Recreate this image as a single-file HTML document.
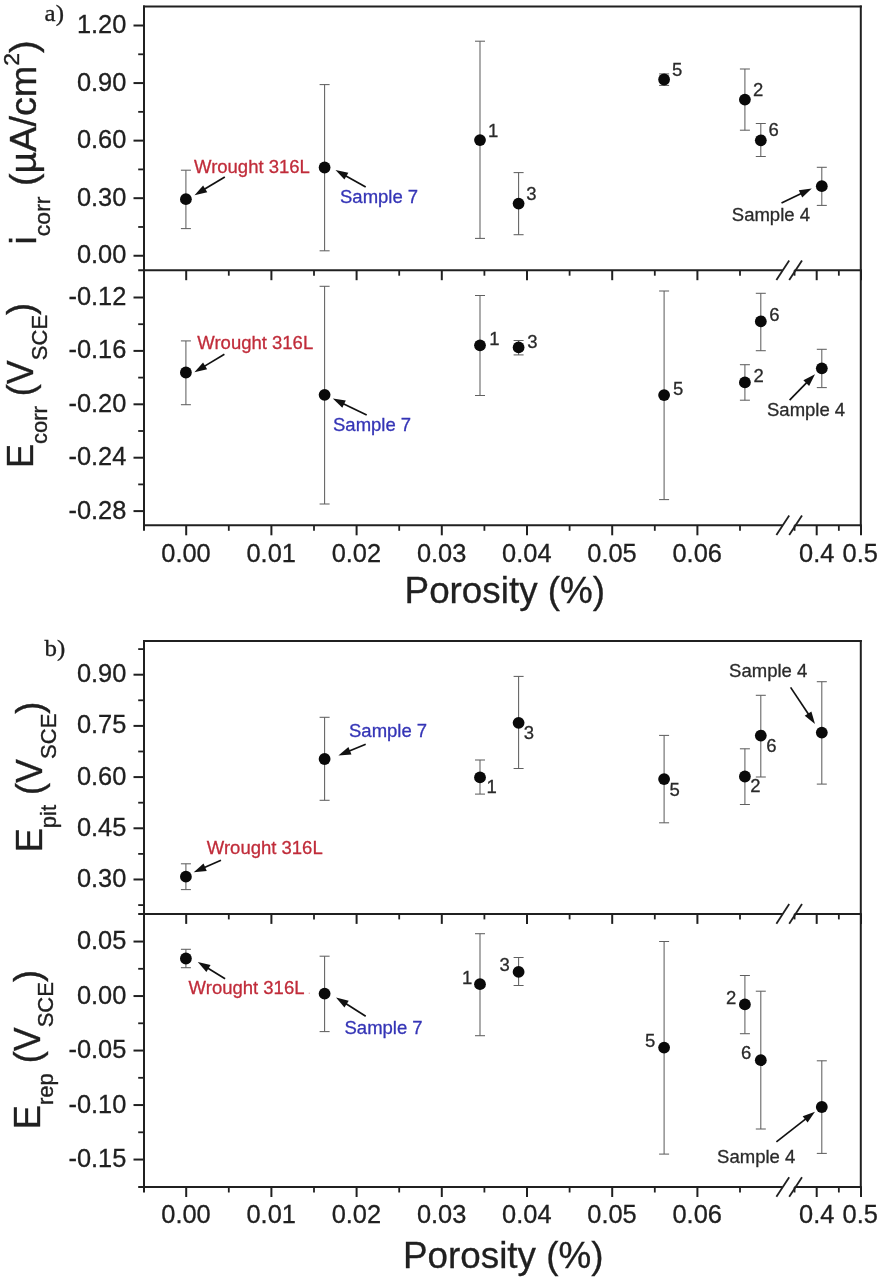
<!DOCTYPE html>
<html lang="en"><head><meta charset="utf-8"><title>Porosity figure</title>
<style>
html,body{margin:0;padding:0;background:#fff;}
body{width:879px;height:1280px;overflow:hidden;}
svg{display:block;}
</style></head><body>
<svg width="879" height="1280" viewBox="0 0 879 1280">
<rect x="0" y="0" width="879" height="1280" fill="#ffffff"/>
<line x1="144.00" y1="5.40" x2="144.00" y2="526.30" stroke="#202020" stroke-width="2.0" stroke-linecap="butt"/>
<line x1="860.80" y1="5.40" x2="860.80" y2="526.30" stroke="#202020" stroke-width="2.0" stroke-linecap="butt"/>
<line x1="143.00" y1="6.40" x2="861.80" y2="6.40" stroke="#202020" stroke-width="2.0" stroke-linecap="butt"/>
<line x1="138.20" y1="270.20" x2="782.80" y2="270.20" stroke="#202020" stroke-width="2.0" stroke-linecap="butt"/>
<line x1="794.50" y1="270.20" x2="861.80" y2="270.20" stroke="#202020" stroke-width="2.0" stroke-linecap="butt"/>
<line x1="776.40" y1="280.00" x2="789.20" y2="260.40" stroke="#202020" stroke-width="1.8" stroke-linecap="butt"/>
<line x1="789.20" y1="280.00" x2="802.00" y2="260.40" stroke="#202020" stroke-width="1.8" stroke-linecap="butt"/>
<line x1="186.20" y1="270.20" x2="186.20" y2="280.20" stroke="#202020" stroke-width="2.0" stroke-linecap="butt"/>
<line x1="271.40" y1="270.20" x2="271.40" y2="280.20" stroke="#202020" stroke-width="2.0" stroke-linecap="butt"/>
<line x1="356.60" y1="270.20" x2="356.60" y2="280.20" stroke="#202020" stroke-width="2.0" stroke-linecap="butt"/>
<line x1="441.80" y1="270.20" x2="441.80" y2="280.20" stroke="#202020" stroke-width="2.0" stroke-linecap="butt"/>
<line x1="527.00" y1="270.20" x2="527.00" y2="280.20" stroke="#202020" stroke-width="2.0" stroke-linecap="butt"/>
<line x1="612.20" y1="270.20" x2="612.20" y2="280.20" stroke="#202020" stroke-width="2.0" stroke-linecap="butt"/>
<line x1="697.40" y1="270.20" x2="697.40" y2="280.20" stroke="#202020" stroke-width="2.0" stroke-linecap="butt"/>
<line x1="228.80" y1="270.20" x2="228.80" y2="275.70" stroke="#202020" stroke-width="1.8" stroke-linecap="butt"/>
<line x1="314.00" y1="270.20" x2="314.00" y2="275.70" stroke="#202020" stroke-width="1.8" stroke-linecap="butt"/>
<line x1="399.20" y1="270.20" x2="399.20" y2="275.70" stroke="#202020" stroke-width="1.8" stroke-linecap="butt"/>
<line x1="484.40" y1="270.20" x2="484.40" y2="275.70" stroke="#202020" stroke-width="1.8" stroke-linecap="butt"/>
<line x1="569.60" y1="270.20" x2="569.60" y2="275.70" stroke="#202020" stroke-width="1.8" stroke-linecap="butt"/>
<line x1="654.80" y1="270.20" x2="654.80" y2="275.70" stroke="#202020" stroke-width="1.8" stroke-linecap="butt"/>
<line x1="740.00" y1="270.20" x2="740.00" y2="275.70" stroke="#202020" stroke-width="1.8" stroke-linecap="butt"/>
<line x1="816.70" y1="270.20" x2="816.70" y2="280.20" stroke="#202020" stroke-width="2.0" stroke-linecap="butt"/>
<line x1="861.00" y1="270.20" x2="861.00" y2="280.20" stroke="#202020" stroke-width="2.0" stroke-linecap="butt"/>
<line x1="794.55" y1="270.20" x2="794.55" y2="275.70" stroke="#202020" stroke-width="1.8" stroke-linecap="butt"/>
<line x1="838.85" y1="270.20" x2="838.85" y2="275.70" stroke="#202020" stroke-width="1.8" stroke-linecap="butt"/>
<line x1="144.00" y1="525.30" x2="782.80" y2="525.30" stroke="#202020" stroke-width="2.0" stroke-linecap="butt"/>
<line x1="794.50" y1="525.30" x2="861.80" y2="525.30" stroke="#202020" stroke-width="2.0" stroke-linecap="butt"/>
<line x1="776.40" y1="535.10" x2="789.20" y2="515.50" stroke="#202020" stroke-width="1.8" stroke-linecap="butt"/>
<line x1="789.20" y1="535.10" x2="802.00" y2="515.50" stroke="#202020" stroke-width="1.8" stroke-linecap="butt"/>
<line x1="186.20" y1="525.30" x2="186.20" y2="535.30" stroke="#202020" stroke-width="2.0" stroke-linecap="butt"/>
<line x1="271.40" y1="525.30" x2="271.40" y2="535.30" stroke="#202020" stroke-width="2.0" stroke-linecap="butt"/>
<line x1="356.60" y1="525.30" x2="356.60" y2="535.30" stroke="#202020" stroke-width="2.0" stroke-linecap="butt"/>
<line x1="441.80" y1="525.30" x2="441.80" y2="535.30" stroke="#202020" stroke-width="2.0" stroke-linecap="butt"/>
<line x1="527.00" y1="525.30" x2="527.00" y2="535.30" stroke="#202020" stroke-width="2.0" stroke-linecap="butt"/>
<line x1="612.20" y1="525.30" x2="612.20" y2="535.30" stroke="#202020" stroke-width="2.0" stroke-linecap="butt"/>
<line x1="697.40" y1="525.30" x2="697.40" y2="535.30" stroke="#202020" stroke-width="2.0" stroke-linecap="butt"/>
<line x1="228.80" y1="525.30" x2="228.80" y2="530.80" stroke="#202020" stroke-width="1.8" stroke-linecap="butt"/>
<line x1="314.00" y1="525.30" x2="314.00" y2="530.80" stroke="#202020" stroke-width="1.8" stroke-linecap="butt"/>
<line x1="399.20" y1="525.30" x2="399.20" y2="530.80" stroke="#202020" stroke-width="1.8" stroke-linecap="butt"/>
<line x1="484.40" y1="525.30" x2="484.40" y2="530.80" stroke="#202020" stroke-width="1.8" stroke-linecap="butt"/>
<line x1="569.60" y1="525.30" x2="569.60" y2="530.80" stroke="#202020" stroke-width="1.8" stroke-linecap="butt"/>
<line x1="654.80" y1="525.30" x2="654.80" y2="530.80" stroke="#202020" stroke-width="1.8" stroke-linecap="butt"/>
<line x1="740.00" y1="525.30" x2="740.00" y2="530.80" stroke="#202020" stroke-width="1.8" stroke-linecap="butt"/>
<line x1="144.00" y1="525.30" x2="144.00" y2="530.80" stroke="#202020" stroke-width="2.0" stroke-linecap="butt"/>
<line x1="816.70" y1="525.30" x2="816.70" y2="535.30" stroke="#202020" stroke-width="2.0" stroke-linecap="butt"/>
<line x1="861.00" y1="525.30" x2="861.00" y2="535.30" stroke="#202020" stroke-width="2.0" stroke-linecap="butt"/>
<line x1="794.55" y1="525.30" x2="794.55" y2="530.80" stroke="#202020" stroke-width="1.8" stroke-linecap="butt"/>
<line x1="838.85" y1="525.30" x2="838.85" y2="530.80" stroke="#202020" stroke-width="1.8" stroke-linecap="butt"/>
<line x1="133.50" y1="255.75" x2="144.00" y2="255.75" stroke="#202020" stroke-width="2.0" stroke-linecap="butt"/>
<text transform="translate(126.30,263.25) scale(1.0,1)" font-size="25.4" text-anchor="end" fill="#202020" stroke="#202020" stroke-width="0.3" font-family='"Liberation Sans", sans-serif' >0.00</text>
<line x1="133.50" y1="198.19" x2="144.00" y2="198.19" stroke="#202020" stroke-width="2.0" stroke-linecap="butt"/>
<text transform="translate(126.30,205.69) scale(1.0,1)" font-size="25.4" text-anchor="end" fill="#202020" stroke="#202020" stroke-width="0.3" font-family='"Liberation Sans", sans-serif' >0.30</text>
<line x1="133.50" y1="140.63" x2="144.00" y2="140.63" stroke="#202020" stroke-width="2.0" stroke-linecap="butt"/>
<text transform="translate(126.30,148.13) scale(1.0,1)" font-size="25.4" text-anchor="end" fill="#202020" stroke="#202020" stroke-width="0.3" font-family='"Liberation Sans", sans-serif' >0.60</text>
<line x1="133.50" y1="83.07" x2="144.00" y2="83.07" stroke="#202020" stroke-width="2.0" stroke-linecap="butt"/>
<text transform="translate(126.30,90.57) scale(1.0,1)" font-size="25.4" text-anchor="end" fill="#202020" stroke="#202020" stroke-width="0.3" font-family='"Liberation Sans", sans-serif' >0.90</text>
<line x1="133.50" y1="25.51" x2="144.00" y2="25.51" stroke="#202020" stroke-width="2.0" stroke-linecap="butt"/>
<text transform="translate(126.30,33.01) scale(1.0,1)" font-size="25.4" text-anchor="end" fill="#202020" stroke="#202020" stroke-width="0.3" font-family='"Liberation Sans", sans-serif' >1.20</text>
<line x1="138.20" y1="226.97" x2="144.00" y2="226.97" stroke="#202020" stroke-width="1.8" stroke-linecap="butt"/>
<line x1="138.20" y1="169.41" x2="144.00" y2="169.41" stroke="#202020" stroke-width="1.8" stroke-linecap="butt"/>
<line x1="138.20" y1="111.85" x2="144.00" y2="111.85" stroke="#202020" stroke-width="1.8" stroke-linecap="butt"/>
<line x1="138.20" y1="54.29" x2="144.00" y2="54.29" stroke="#202020" stroke-width="1.8" stroke-linecap="butt"/>
<line x1="133.50" y1="297.50" x2="144.00" y2="297.50" stroke="#202020" stroke-width="2.0" stroke-linecap="butt"/>
<text transform="translate(126.30,305.00) scale(1.0,1)" font-size="25.4" text-anchor="end" fill="#202020" stroke="#202020" stroke-width="0.3" font-family='"Liberation Sans", sans-serif' >-0.12</text>
<line x1="133.50" y1="350.90" x2="144.00" y2="350.90" stroke="#202020" stroke-width="2.0" stroke-linecap="butt"/>
<text transform="translate(126.30,358.40) scale(1.0,1)" font-size="25.4" text-anchor="end" fill="#202020" stroke="#202020" stroke-width="0.3" font-family='"Liberation Sans", sans-serif' >-0.16</text>
<line x1="133.50" y1="404.30" x2="144.00" y2="404.30" stroke="#202020" stroke-width="2.0" stroke-linecap="butt"/>
<text transform="translate(126.30,411.80) scale(1.0,1)" font-size="25.4" text-anchor="end" fill="#202020" stroke="#202020" stroke-width="0.3" font-family='"Liberation Sans", sans-serif' >-0.20</text>
<line x1="133.50" y1="457.70" x2="144.00" y2="457.70" stroke="#202020" stroke-width="2.0" stroke-linecap="butt"/>
<text transform="translate(126.30,465.20) scale(1.0,1)" font-size="25.4" text-anchor="end" fill="#202020" stroke="#202020" stroke-width="0.3" font-family='"Liberation Sans", sans-serif' >-0.24</text>
<line x1="133.50" y1="511.10" x2="144.00" y2="511.10" stroke="#202020" stroke-width="2.0" stroke-linecap="butt"/>
<text transform="translate(126.30,518.60) scale(1.0,1)" font-size="25.4" text-anchor="end" fill="#202020" stroke="#202020" stroke-width="0.3" font-family='"Liberation Sans", sans-serif' >-0.28</text>
<line x1="138.20" y1="324.20" x2="144.00" y2="324.20" stroke="#202020" stroke-width="1.8" stroke-linecap="butt"/>
<line x1="138.20" y1="377.60" x2="144.00" y2="377.60" stroke="#202020" stroke-width="1.8" stroke-linecap="butt"/>
<line x1="138.20" y1="431.00" x2="144.00" y2="431.00" stroke="#202020" stroke-width="1.8" stroke-linecap="butt"/>
<line x1="138.20" y1="484.40" x2="144.00" y2="484.40" stroke="#202020" stroke-width="1.8" stroke-linecap="butt"/>
<text transform="translate(186.00,562.00) scale(1.0,1)" font-size="25.4" text-anchor="middle" fill="#202020" stroke="#202020" stroke-width="0.3" font-family='"Liberation Sans", sans-serif' >0.00</text>
<text transform="translate(271.20,562.00) scale(1.0,1)" font-size="25.4" text-anchor="middle" fill="#202020" stroke="#202020" stroke-width="0.3" font-family='"Liberation Sans", sans-serif' >0.01</text>
<text transform="translate(356.40,562.00) scale(1.0,1)" font-size="25.4" text-anchor="middle" fill="#202020" stroke="#202020" stroke-width="0.3" font-family='"Liberation Sans", sans-serif' >0.02</text>
<text transform="translate(441.60,562.00) scale(1.0,1)" font-size="25.4" text-anchor="middle" fill="#202020" stroke="#202020" stroke-width="0.3" font-family='"Liberation Sans", sans-serif' >0.03</text>
<text transform="translate(526.80,562.00) scale(1.0,1)" font-size="25.4" text-anchor="middle" fill="#202020" stroke="#202020" stroke-width="0.3" font-family='"Liberation Sans", sans-serif' >0.04</text>
<text transform="translate(612.00,562.00) scale(1.0,1)" font-size="25.4" text-anchor="middle" fill="#202020" stroke="#202020" stroke-width="0.3" font-family='"Liberation Sans", sans-serif' >0.05</text>
<text transform="translate(697.20,562.00) scale(1.0,1)" font-size="25.4" text-anchor="middle" fill="#202020" stroke="#202020" stroke-width="0.3" font-family='"Liberation Sans", sans-serif' >0.06</text>
<text transform="translate(816.70,562.00) scale(1.0,1)" font-size="25.4" text-anchor="middle" fill="#202020" stroke="#202020" stroke-width="0.3" font-family='"Liberation Sans", sans-serif' >0.4</text>
<text transform="translate(860.20,562.00) scale(1.0,1)" font-size="25.4" text-anchor="middle" fill="#202020" stroke="#202020" stroke-width="0.3" font-family='"Liberation Sans", sans-serif' >0.5</text>
<text transform="translate(504.80,602.60) scale(1.0,1)" font-size="36.8" text-anchor="middle" fill="#202020" stroke="#202020" stroke-width="0.3" font-family='"Liberation Sans", sans-serif' >Porosity (%)</text>
<text transform="translate(44.60,21.00) scale(1.06,1)" font-size="23.5" text-anchor="start" fill="#202020" stroke="#202020" stroke-width="0.3" font-family='"Liberation Serif", serif' >a)</text>
<text transform="translate(36.40,142.50) rotate(-90) scale(1.02,1)" font-size="37" text-anchor="middle" fill="#202020" stroke="#202020" stroke-width="0.35" font-family='"Liberation Sans", sans-serif' xml:space="preserve"><tspan>i</tspan><tspan dy="13.7" font-size="22.6">corr</tspan><tspan dy="-13.7"> (µA/cm</tspan><tspan dy="-17.4" font-size="22.6">2</tspan><tspan dy="17.4">)</tspan></text>
<text transform="translate(33.20,385.50) rotate(-90) scale(1.0,1)" font-size="36" text-anchor="middle" fill="#202020" stroke="#202020" stroke-width="0.35" font-family='"Liberation Sans", sans-serif' xml:space="preserve"><tspan>E</tspan><tspan dy="13.3" font-size="22.0">corr</tspan><tspan dy="-13.3"> (V</tspan><tspan dy="13.3" font-size="22.0">SCE</tspan><tspan dy="-13.3">)</tspan></text>
<line x1="185.90" y1="170.20" x2="185.90" y2="228.60" stroke="#606060" stroke-width="1.05" stroke-linecap="butt"/>
<line x1="180.90" y1="170.20" x2="190.90" y2="170.20" stroke="#606060" stroke-width="1.05" stroke-linecap="butt"/>
<line x1="180.90" y1="228.60" x2="190.90" y2="228.60" stroke="#606060" stroke-width="1.05" stroke-linecap="butt"/>
<circle cx="185.90" cy="199.20" r="5.9" fill="#0a0a0a"/>
<line x1="324.60" y1="84.60" x2="324.60" y2="250.80" stroke="#606060" stroke-width="1.05" stroke-linecap="butt"/>
<line x1="319.60" y1="84.60" x2="329.60" y2="84.60" stroke="#606060" stroke-width="1.05" stroke-linecap="butt"/>
<line x1="319.60" y1="250.80" x2="329.60" y2="250.80" stroke="#606060" stroke-width="1.05" stroke-linecap="butt"/>
<circle cx="324.60" cy="167.50" r="5.9" fill="#0a0a0a"/>
<line x1="480.00" y1="41.20" x2="480.00" y2="238.40" stroke="#606060" stroke-width="1.05" stroke-linecap="butt"/>
<line x1="475.00" y1="41.20" x2="485.00" y2="41.20" stroke="#606060" stroke-width="1.05" stroke-linecap="butt"/>
<line x1="475.00" y1="238.40" x2="485.00" y2="238.40" stroke="#606060" stroke-width="1.05" stroke-linecap="butt"/>
<circle cx="480.00" cy="140.10" r="5.9" fill="#0a0a0a"/>
<line x1="518.60" y1="172.60" x2="518.60" y2="234.70" stroke="#606060" stroke-width="1.05" stroke-linecap="butt"/>
<line x1="513.60" y1="172.60" x2="523.60" y2="172.60" stroke="#606060" stroke-width="1.05" stroke-linecap="butt"/>
<line x1="513.60" y1="234.70" x2="523.60" y2="234.70" stroke="#606060" stroke-width="1.05" stroke-linecap="butt"/>
<circle cx="518.60" cy="203.60" r="5.9" fill="#0a0a0a"/>
<line x1="664.10" y1="73.90" x2="664.10" y2="85.40" stroke="#606060" stroke-width="1.05" stroke-linecap="butt"/>
<line x1="659.10" y1="73.90" x2="669.10" y2="73.90" stroke="#606060" stroke-width="1.05" stroke-linecap="butt"/>
<line x1="659.10" y1="85.40" x2="669.10" y2="85.40" stroke="#606060" stroke-width="1.05" stroke-linecap="butt"/>
<circle cx="664.10" cy="79.50" r="5.9" fill="#0a0a0a"/>
<line x1="744.90" y1="69.00" x2="744.90" y2="130.20" stroke="#606060" stroke-width="1.05" stroke-linecap="butt"/>
<line x1="739.90" y1="69.00" x2="749.90" y2="69.00" stroke="#606060" stroke-width="1.05" stroke-linecap="butt"/>
<line x1="739.90" y1="130.20" x2="749.90" y2="130.20" stroke="#606060" stroke-width="1.05" stroke-linecap="butt"/>
<circle cx="744.90" cy="99.60" r="5.9" fill="#0a0a0a"/>
<line x1="760.80" y1="123.50" x2="760.80" y2="156.50" stroke="#606060" stroke-width="1.05" stroke-linecap="butt"/>
<line x1="755.80" y1="123.50" x2="765.80" y2="123.50" stroke="#606060" stroke-width="1.05" stroke-linecap="butt"/>
<line x1="755.80" y1="156.50" x2="765.80" y2="156.50" stroke="#606060" stroke-width="1.05" stroke-linecap="butt"/>
<circle cx="760.80" cy="140.30" r="5.9" fill="#0a0a0a"/>
<line x1="821.80" y1="167.30" x2="821.80" y2="205.40" stroke="#606060" stroke-width="1.05" stroke-linecap="butt"/>
<line x1="816.80" y1="167.30" x2="826.80" y2="167.30" stroke="#606060" stroke-width="1.05" stroke-linecap="butt"/>
<line x1="816.80" y1="205.40" x2="826.80" y2="205.40" stroke="#606060" stroke-width="1.05" stroke-linecap="butt"/>
<circle cx="821.80" cy="186.20" r="5.9" fill="#0a0a0a"/>
<text transform="translate(488.00,137.00) scale(1.0,1)" font-size="18.5" text-anchor="start" fill="#2a2a2a" stroke="#2a2a2a" stroke-width="0.3" font-family='"Liberation Sans", sans-serif' >1</text>
<text transform="translate(526.20,200.20) scale(1.0,1)" font-size="18.5" text-anchor="start" fill="#2a2a2a" stroke="#2a2a2a" stroke-width="0.3" font-family='"Liberation Sans", sans-serif' >3</text>
<text transform="translate(672.00,76.30) scale(1.0,1)" font-size="18.5" text-anchor="start" fill="#2a2a2a" stroke="#2a2a2a" stroke-width="0.3" font-family='"Liberation Sans", sans-serif' >5</text>
<text transform="translate(753.00,96.40) scale(1.0,1)" font-size="18.5" text-anchor="start" fill="#2a2a2a" stroke="#2a2a2a" stroke-width="0.3" font-family='"Liberation Sans", sans-serif' >2</text>
<text transform="translate(768.60,136.30) scale(1.0,1)" font-size="18.5" text-anchor="start" fill="#2a2a2a" stroke="#2a2a2a" stroke-width="0.3" font-family='"Liberation Sans", sans-serif' >6</text>
<text transform="translate(731.80,220.80) scale(1.0,1)" font-size="18.5" text-anchor="start" fill="#2a2a2a" stroke="#2a2a2a" stroke-width="0.3" font-family='"Liberation Sans", sans-serif' >Sample 4</text>
<line x1="781.50" y1="202.90" x2="802.32" y2="193.01" stroke="#111" stroke-width="1.7" stroke-linecap="butt"/>
<polygon points="811.80,188.50 802.23,197.48 798.79,190.25" fill="#111"/>
<text transform="translate(194.00,172.60) scale(1.0,1)" font-size="18.5" text-anchor="start" fill="#c02c3a" stroke="#c02c3a" stroke-width="0.3" font-family='"Liberation Sans", sans-serif' >Wrought 316L</text>
<line x1="224.80" y1="176.90" x2="203.47" y2="189.85" stroke="#111" stroke-width="1.7" stroke-linecap="butt"/>
<polygon points="194.50,195.30 203.11,185.39 207.26,192.23" fill="#111"/>
<text transform="translate(340.00,203.30) scale(1.0,1)" font-size="18.5" text-anchor="start" fill="#3434b6" stroke="#3434b6" stroke-width="0.3" font-family='"Liberation Sans", sans-serif' >Sample 7</text>
<line x1="365.70" y1="187.00" x2="344.65" y2="175.15" stroke="#111" stroke-width="1.7" stroke-linecap="butt"/>
<polygon points="335.50,170.00 348.35,172.65 344.43,179.62" fill="#111"/>
<line x1="185.90" y1="340.90" x2="185.90" y2="404.70" stroke="#606060" stroke-width="1.05" stroke-linecap="butt"/>
<line x1="180.90" y1="340.90" x2="190.90" y2="340.90" stroke="#606060" stroke-width="1.05" stroke-linecap="butt"/>
<line x1="180.90" y1="404.70" x2="190.90" y2="404.70" stroke="#606060" stroke-width="1.05" stroke-linecap="butt"/>
<circle cx="185.90" cy="372.50" r="5.9" fill="#0a0a0a"/>
<line x1="324.60" y1="286.30" x2="324.60" y2="504.00" stroke="#606060" stroke-width="1.05" stroke-linecap="butt"/>
<line x1="319.60" y1="286.30" x2="329.60" y2="286.30" stroke="#606060" stroke-width="1.05" stroke-linecap="butt"/>
<line x1="319.60" y1="504.00" x2="329.60" y2="504.00" stroke="#606060" stroke-width="1.05" stroke-linecap="butt"/>
<circle cx="324.60" cy="394.80" r="5.9" fill="#0a0a0a"/>
<line x1="480.00" y1="295.50" x2="480.00" y2="395.50" stroke="#606060" stroke-width="1.05" stroke-linecap="butt"/>
<line x1="475.00" y1="295.50" x2="485.00" y2="295.50" stroke="#606060" stroke-width="1.05" stroke-linecap="butt"/>
<line x1="475.00" y1="395.50" x2="485.00" y2="395.50" stroke="#606060" stroke-width="1.05" stroke-linecap="butt"/>
<circle cx="480.00" cy="345.30" r="5.9" fill="#0a0a0a"/>
<line x1="518.60" y1="340.50" x2="518.60" y2="354.90" stroke="#606060" stroke-width="1.05" stroke-linecap="butt"/>
<line x1="513.60" y1="340.50" x2="523.60" y2="340.50" stroke="#606060" stroke-width="1.05" stroke-linecap="butt"/>
<line x1="513.60" y1="354.90" x2="523.60" y2="354.90" stroke="#606060" stroke-width="1.05" stroke-linecap="butt"/>
<circle cx="518.60" cy="347.40" r="5.9" fill="#0a0a0a"/>
<line x1="664.10" y1="291.00" x2="664.10" y2="499.60" stroke="#606060" stroke-width="1.05" stroke-linecap="butt"/>
<line x1="659.10" y1="291.00" x2="669.10" y2="291.00" stroke="#606060" stroke-width="1.05" stroke-linecap="butt"/>
<line x1="659.10" y1="499.60" x2="669.10" y2="499.60" stroke="#606060" stroke-width="1.05" stroke-linecap="butt"/>
<circle cx="664.10" cy="395.10" r="5.9" fill="#0a0a0a"/>
<line x1="744.90" y1="364.70" x2="744.90" y2="400.20" stroke="#606060" stroke-width="1.05" stroke-linecap="butt"/>
<line x1="739.90" y1="364.70" x2="749.90" y2="364.70" stroke="#606060" stroke-width="1.05" stroke-linecap="butt"/>
<line x1="739.90" y1="400.20" x2="749.90" y2="400.20" stroke="#606060" stroke-width="1.05" stroke-linecap="butt"/>
<circle cx="744.90" cy="382.40" r="5.9" fill="#0a0a0a"/>
<line x1="760.80" y1="293.30" x2="760.80" y2="350.70" stroke="#606060" stroke-width="1.05" stroke-linecap="butt"/>
<line x1="755.80" y1="293.30" x2="765.80" y2="293.30" stroke="#606060" stroke-width="1.05" stroke-linecap="butt"/>
<line x1="755.80" y1="350.70" x2="765.80" y2="350.70" stroke="#606060" stroke-width="1.05" stroke-linecap="butt"/>
<circle cx="760.80" cy="321.40" r="5.9" fill="#0a0a0a"/>
<line x1="821.80" y1="349.30" x2="821.80" y2="387.60" stroke="#606060" stroke-width="1.05" stroke-linecap="butt"/>
<line x1="816.80" y1="349.30" x2="826.80" y2="349.30" stroke="#606060" stroke-width="1.05" stroke-linecap="butt"/>
<line x1="816.80" y1="387.60" x2="826.80" y2="387.60" stroke="#606060" stroke-width="1.05" stroke-linecap="butt"/>
<circle cx="821.80" cy="368.30" r="5.9" fill="#0a0a0a"/>
<text transform="translate(197.30,349.40) scale(1.0,1)" font-size="18.5" text-anchor="start" fill="#c02c3a" stroke="#c02c3a" stroke-width="0.3" font-family='"Liberation Sans", sans-serif' >Wrought 316L</text>
<line x1="224.40" y1="354.20" x2="203.39" y2="366.88" stroke="#111" stroke-width="1.7" stroke-linecap="butt"/>
<polygon points="194.40,372.30 203.04,362.42 207.17,369.27" fill="#111"/>
<text transform="translate(333.00,431.00) scale(1.0,1)" font-size="18.5" text-anchor="start" fill="#3434b6" stroke="#3434b6" stroke-width="0.3" font-family='"Liberation Sans", sans-serif' >Sample 7</text>
<line x1="366.70" y1="415.00" x2="342.25" y2="403.17" stroke="#111" stroke-width="1.7" stroke-linecap="butt"/>
<polygon points="332.80,398.60 345.79,400.44 342.31,407.64" fill="#111"/>
<text transform="translate(489.20,345.00) scale(1.0,1)" font-size="18.5" text-anchor="start" fill="#2a2a2a" stroke="#2a2a2a" stroke-width="0.3" font-family='"Liberation Sans", sans-serif' >1</text>
<text transform="translate(527.20,347.70) scale(1.0,1)" font-size="18.5" text-anchor="start" fill="#2a2a2a" stroke="#2a2a2a" stroke-width="0.3" font-family='"Liberation Sans", sans-serif' >3</text>
<text transform="translate(672.90,395.10) scale(1.0,1)" font-size="18.5" text-anchor="start" fill="#2a2a2a" stroke="#2a2a2a" stroke-width="0.3" font-family='"Liberation Sans", sans-serif' >5</text>
<text transform="translate(753.40,381.90) scale(1.0,1)" font-size="18.5" text-anchor="start" fill="#2a2a2a" stroke="#2a2a2a" stroke-width="0.3" font-family='"Liberation Sans", sans-serif' >2</text>
<text transform="translate(769.20,320.80) scale(1.0,1)" font-size="18.5" text-anchor="start" fill="#2a2a2a" stroke="#2a2a2a" stroke-width="0.3" font-family='"Liberation Sans", sans-serif' >6</text>
<text transform="translate(767.00,416.00) scale(1.0,1)" font-size="18.5" text-anchor="start" fill="#2a2a2a" stroke="#2a2a2a" stroke-width="0.3" font-family='"Liberation Sans", sans-serif' >Sample 4</text>
<line x1="789.60" y1="400.20" x2="807.66" y2="381.71" stroke="#111" stroke-width="1.7" stroke-linecap="butt"/>
<polygon points="815.00,374.20 809.13,385.94 803.40,380.35" fill="#111"/>
<line x1="144.00" y1="640.10" x2="144.00" y2="1188.00" stroke="#202020" stroke-width="2.0" stroke-linecap="butt"/>
<line x1="860.80" y1="640.10" x2="860.80" y2="1188.00" stroke="#202020" stroke-width="2.0" stroke-linecap="butt"/>
<line x1="143.00" y1="641.10" x2="861.80" y2="641.10" stroke="#202020" stroke-width="2.0" stroke-linecap="butt"/>
<line x1="138.20" y1="913.90" x2="782.80" y2="913.90" stroke="#202020" stroke-width="2.0" stroke-linecap="butt"/>
<line x1="794.50" y1="913.90" x2="861.80" y2="913.90" stroke="#202020" stroke-width="2.0" stroke-linecap="butt"/>
<line x1="776.40" y1="923.70" x2="789.20" y2="904.10" stroke="#202020" stroke-width="1.8" stroke-linecap="butt"/>
<line x1="789.20" y1="923.70" x2="802.00" y2="904.10" stroke="#202020" stroke-width="1.8" stroke-linecap="butt"/>
<line x1="186.20" y1="913.90" x2="186.20" y2="923.90" stroke="#202020" stroke-width="2.0" stroke-linecap="butt"/>
<line x1="271.40" y1="913.90" x2="271.40" y2="923.90" stroke="#202020" stroke-width="2.0" stroke-linecap="butt"/>
<line x1="356.60" y1="913.90" x2="356.60" y2="923.90" stroke="#202020" stroke-width="2.0" stroke-linecap="butt"/>
<line x1="441.80" y1="913.90" x2="441.80" y2="923.90" stroke="#202020" stroke-width="2.0" stroke-linecap="butt"/>
<line x1="527.00" y1="913.90" x2="527.00" y2="923.90" stroke="#202020" stroke-width="2.0" stroke-linecap="butt"/>
<line x1="612.20" y1="913.90" x2="612.20" y2="923.90" stroke="#202020" stroke-width="2.0" stroke-linecap="butt"/>
<line x1="697.40" y1="913.90" x2="697.40" y2="923.90" stroke="#202020" stroke-width="2.0" stroke-linecap="butt"/>
<line x1="228.80" y1="913.90" x2="228.80" y2="919.40" stroke="#202020" stroke-width="1.8" stroke-linecap="butt"/>
<line x1="314.00" y1="913.90" x2="314.00" y2="919.40" stroke="#202020" stroke-width="1.8" stroke-linecap="butt"/>
<line x1="399.20" y1="913.90" x2="399.20" y2="919.40" stroke="#202020" stroke-width="1.8" stroke-linecap="butt"/>
<line x1="484.40" y1="913.90" x2="484.40" y2="919.40" stroke="#202020" stroke-width="1.8" stroke-linecap="butt"/>
<line x1="569.60" y1="913.90" x2="569.60" y2="919.40" stroke="#202020" stroke-width="1.8" stroke-linecap="butt"/>
<line x1="654.80" y1="913.90" x2="654.80" y2="919.40" stroke="#202020" stroke-width="1.8" stroke-linecap="butt"/>
<line x1="740.00" y1="913.90" x2="740.00" y2="919.40" stroke="#202020" stroke-width="1.8" stroke-linecap="butt"/>
<line x1="816.70" y1="913.90" x2="816.70" y2="923.90" stroke="#202020" stroke-width="2.0" stroke-linecap="butt"/>
<line x1="861.00" y1="913.90" x2="861.00" y2="923.90" stroke="#202020" stroke-width="2.0" stroke-linecap="butt"/>
<line x1="794.55" y1="913.90" x2="794.55" y2="919.40" stroke="#202020" stroke-width="1.8" stroke-linecap="butt"/>
<line x1="838.85" y1="913.90" x2="838.85" y2="919.40" stroke="#202020" stroke-width="1.8" stroke-linecap="butt"/>
<line x1="138.20" y1="1187.00" x2="782.80" y2="1187.00" stroke="#202020" stroke-width="2.0" stroke-linecap="butt"/>
<line x1="794.50" y1="1187.00" x2="861.80" y2="1187.00" stroke="#202020" stroke-width="2.0" stroke-linecap="butt"/>
<line x1="776.40" y1="1196.80" x2="789.20" y2="1177.20" stroke="#202020" stroke-width="1.8" stroke-linecap="butt"/>
<line x1="789.20" y1="1196.80" x2="802.00" y2="1177.20" stroke="#202020" stroke-width="1.8" stroke-linecap="butt"/>
<line x1="186.20" y1="1187.00" x2="186.20" y2="1197.00" stroke="#202020" stroke-width="2.0" stroke-linecap="butt"/>
<line x1="271.40" y1="1187.00" x2="271.40" y2="1197.00" stroke="#202020" stroke-width="2.0" stroke-linecap="butt"/>
<line x1="356.60" y1="1187.00" x2="356.60" y2="1197.00" stroke="#202020" stroke-width="2.0" stroke-linecap="butt"/>
<line x1="441.80" y1="1187.00" x2="441.80" y2="1197.00" stroke="#202020" stroke-width="2.0" stroke-linecap="butt"/>
<line x1="527.00" y1="1187.00" x2="527.00" y2="1197.00" stroke="#202020" stroke-width="2.0" stroke-linecap="butt"/>
<line x1="612.20" y1="1187.00" x2="612.20" y2="1197.00" stroke="#202020" stroke-width="2.0" stroke-linecap="butt"/>
<line x1="697.40" y1="1187.00" x2="697.40" y2="1197.00" stroke="#202020" stroke-width="2.0" stroke-linecap="butt"/>
<line x1="228.80" y1="1187.00" x2="228.80" y2="1192.50" stroke="#202020" stroke-width="1.8" stroke-linecap="butt"/>
<line x1="314.00" y1="1187.00" x2="314.00" y2="1192.50" stroke="#202020" stroke-width="1.8" stroke-linecap="butt"/>
<line x1="399.20" y1="1187.00" x2="399.20" y2="1192.50" stroke="#202020" stroke-width="1.8" stroke-linecap="butt"/>
<line x1="484.40" y1="1187.00" x2="484.40" y2="1192.50" stroke="#202020" stroke-width="1.8" stroke-linecap="butt"/>
<line x1="569.60" y1="1187.00" x2="569.60" y2="1192.50" stroke="#202020" stroke-width="1.8" stroke-linecap="butt"/>
<line x1="654.80" y1="1187.00" x2="654.80" y2="1192.50" stroke="#202020" stroke-width="1.8" stroke-linecap="butt"/>
<line x1="740.00" y1="1187.00" x2="740.00" y2="1192.50" stroke="#202020" stroke-width="1.8" stroke-linecap="butt"/>
<line x1="144.00" y1="1187.00" x2="144.00" y2="1192.50" stroke="#202020" stroke-width="2.0" stroke-linecap="butt"/>
<line x1="816.70" y1="1187.00" x2="816.70" y2="1197.00" stroke="#202020" stroke-width="2.0" stroke-linecap="butt"/>
<line x1="861.00" y1="1187.00" x2="861.00" y2="1197.00" stroke="#202020" stroke-width="2.0" stroke-linecap="butt"/>
<line x1="794.55" y1="1187.00" x2="794.55" y2="1192.50" stroke="#202020" stroke-width="1.8" stroke-linecap="butt"/>
<line x1="838.85" y1="1187.00" x2="838.85" y2="1192.50" stroke="#202020" stroke-width="1.8" stroke-linecap="butt"/>
<line x1="133.50" y1="674.70" x2="144.00" y2="674.70" stroke="#202020" stroke-width="2.0" stroke-linecap="butt"/>
<text transform="translate(126.30,682.20) scale(1.0,1)" font-size="25.4" text-anchor="end" fill="#202020" stroke="#202020" stroke-width="0.3" font-family='"Liberation Sans", sans-serif' >0.90</text>
<line x1="133.50" y1="725.90" x2="144.00" y2="725.90" stroke="#202020" stroke-width="2.0" stroke-linecap="butt"/>
<text transform="translate(126.30,733.40) scale(1.0,1)" font-size="25.4" text-anchor="end" fill="#202020" stroke="#202020" stroke-width="0.3" font-family='"Liberation Sans", sans-serif' >0.75</text>
<line x1="133.50" y1="777.09" x2="144.00" y2="777.09" stroke="#202020" stroke-width="2.0" stroke-linecap="butt"/>
<text transform="translate(126.30,784.59) scale(1.0,1)" font-size="25.4" text-anchor="end" fill="#202020" stroke="#202020" stroke-width="0.3" font-family='"Liberation Sans", sans-serif' >0.60</text>
<line x1="133.50" y1="828.29" x2="144.00" y2="828.29" stroke="#202020" stroke-width="2.0" stroke-linecap="butt"/>
<text transform="translate(126.30,835.79) scale(1.0,1)" font-size="25.4" text-anchor="end" fill="#202020" stroke="#202020" stroke-width="0.3" font-family='"Liberation Sans", sans-serif' >0.45</text>
<line x1="133.50" y1="879.48" x2="144.00" y2="879.48" stroke="#202020" stroke-width="2.0" stroke-linecap="butt"/>
<text transform="translate(126.30,886.98) scale(1.0,1)" font-size="25.4" text-anchor="end" fill="#202020" stroke="#202020" stroke-width="0.3" font-family='"Liberation Sans", sans-serif' >0.30</text>
<line x1="138.20" y1="649.10" x2="144.00" y2="649.10" stroke="#202020" stroke-width="1.8" stroke-linecap="butt"/>
<line x1="138.20" y1="700.30" x2="144.00" y2="700.30" stroke="#202020" stroke-width="1.8" stroke-linecap="butt"/>
<line x1="138.20" y1="751.49" x2="144.00" y2="751.49" stroke="#202020" stroke-width="1.8" stroke-linecap="butt"/>
<line x1="138.20" y1="802.69" x2="144.00" y2="802.69" stroke="#202020" stroke-width="1.8" stroke-linecap="butt"/>
<line x1="138.20" y1="853.88" x2="144.00" y2="853.88" stroke="#202020" stroke-width="1.8" stroke-linecap="butt"/>
<line x1="138.20" y1="905.08" x2="144.00" y2="905.08" stroke="#202020" stroke-width="1.8" stroke-linecap="butt"/>
<line x1="133.50" y1="941.55" x2="144.00" y2="941.55" stroke="#202020" stroke-width="2.0" stroke-linecap="butt"/>
<text transform="translate(126.30,949.05) scale(1.0,1)" font-size="25.4" text-anchor="end" fill="#202020" stroke="#202020" stroke-width="0.3" font-family='"Liberation Sans", sans-serif' >0.05</text>
<line x1="133.50" y1="996.05" x2="144.00" y2="996.05" stroke="#202020" stroke-width="2.0" stroke-linecap="butt"/>
<text transform="translate(126.30,1003.55) scale(1.0,1)" font-size="25.4" text-anchor="end" fill="#202020" stroke="#202020" stroke-width="0.3" font-family='"Liberation Sans", sans-serif' >0.00</text>
<line x1="133.50" y1="1050.55" x2="144.00" y2="1050.55" stroke="#202020" stroke-width="2.0" stroke-linecap="butt"/>
<text transform="translate(126.30,1058.05) scale(1.0,1)" font-size="25.4" text-anchor="end" fill="#202020" stroke="#202020" stroke-width="0.3" font-family='"Liberation Sans", sans-serif' >-0.05</text>
<line x1="133.50" y1="1105.05" x2="144.00" y2="1105.05" stroke="#202020" stroke-width="2.0" stroke-linecap="butt"/>
<text transform="translate(126.30,1112.55) scale(1.0,1)" font-size="25.4" text-anchor="end" fill="#202020" stroke="#202020" stroke-width="0.3" font-family='"Liberation Sans", sans-serif' >-0.10</text>
<line x1="133.50" y1="1159.55" x2="144.00" y2="1159.55" stroke="#202020" stroke-width="2.0" stroke-linecap="butt"/>
<text transform="translate(126.30,1167.05) scale(1.0,1)" font-size="25.4" text-anchor="end" fill="#202020" stroke="#202020" stroke-width="0.3" font-family='"Liberation Sans", sans-serif' >-0.15</text>
<line x1="138.20" y1="968.80" x2="144.00" y2="968.80" stroke="#202020" stroke-width="1.8" stroke-linecap="butt"/>
<line x1="138.20" y1="1023.30" x2="144.00" y2="1023.30" stroke="#202020" stroke-width="1.8" stroke-linecap="butt"/>
<line x1="138.20" y1="1077.80" x2="144.00" y2="1077.80" stroke="#202020" stroke-width="1.8" stroke-linecap="butt"/>
<line x1="138.20" y1="1132.30" x2="144.00" y2="1132.30" stroke="#202020" stroke-width="1.8" stroke-linecap="butt"/>
<text transform="translate(186.00,1223.40) scale(1.0,1)" font-size="25.4" text-anchor="middle" fill="#202020" stroke="#202020" stroke-width="0.3" font-family='"Liberation Sans", sans-serif' >0.00</text>
<text transform="translate(271.20,1223.40) scale(1.0,1)" font-size="25.4" text-anchor="middle" fill="#202020" stroke="#202020" stroke-width="0.3" font-family='"Liberation Sans", sans-serif' >0.01</text>
<text transform="translate(356.40,1223.40) scale(1.0,1)" font-size="25.4" text-anchor="middle" fill="#202020" stroke="#202020" stroke-width="0.3" font-family='"Liberation Sans", sans-serif' >0.02</text>
<text transform="translate(441.60,1223.40) scale(1.0,1)" font-size="25.4" text-anchor="middle" fill="#202020" stroke="#202020" stroke-width="0.3" font-family='"Liberation Sans", sans-serif' >0.03</text>
<text transform="translate(526.80,1223.40) scale(1.0,1)" font-size="25.4" text-anchor="middle" fill="#202020" stroke="#202020" stroke-width="0.3" font-family='"Liberation Sans", sans-serif' >0.04</text>
<text transform="translate(612.00,1223.40) scale(1.0,1)" font-size="25.4" text-anchor="middle" fill="#202020" stroke="#202020" stroke-width="0.3" font-family='"Liberation Sans", sans-serif' >0.05</text>
<text transform="translate(697.20,1223.40) scale(1.0,1)" font-size="25.4" text-anchor="middle" fill="#202020" stroke="#202020" stroke-width="0.3" font-family='"Liberation Sans", sans-serif' >0.06</text>
<text transform="translate(816.70,1223.40) scale(1.0,1)" font-size="25.4" text-anchor="middle" fill="#202020" stroke="#202020" stroke-width="0.3" font-family='"Liberation Sans", sans-serif' >0.4</text>
<text transform="translate(860.20,1223.40) scale(1.0,1)" font-size="25.4" text-anchor="middle" fill="#202020" stroke="#202020" stroke-width="0.3" font-family='"Liberation Sans", sans-serif' >0.5</text>
<text transform="translate(503.20,1267.60) scale(1.0,1)" font-size="36.8" text-anchor="middle" fill="#202020" stroke="#202020" stroke-width="0.3" font-family='"Liberation Sans", sans-serif' >Porosity (%)</text>
<text transform="translate(44.60,655.50) scale(1.06,1)" font-size="23.5" text-anchor="start" fill="#202020" stroke="#202020" stroke-width="0.3" font-family='"Liberation Serif", serif' >b)</text>
<text transform="translate(42.20,776.90) rotate(-90) scale(1.0,1)" font-size="36" text-anchor="middle" fill="#202020" stroke="#202020" stroke-width="0.35" font-family='"Liberation Sans", sans-serif' xml:space="preserve"><tspan>E</tspan><tspan dy="13.3" font-size="22.0">pit</tspan><tspan dy="-13.3"> (V</tspan><tspan dy="13.3" font-size="22.0">SCE</tspan><tspan dy="-13.3">)</tspan></text>
<text transform="translate(39.80,1049.60) rotate(-90) scale(1.0,1)" font-size="36" text-anchor="middle" fill="#202020" stroke="#202020" stroke-width="0.35" font-family='"Liberation Sans", sans-serif' xml:space="preserve"><tspan>E</tspan><tspan dy="13.3" font-size="22.0">rep</tspan><tspan dy="-13.3"> (V</tspan><tspan dy="13.3" font-size="22.0">SCE</tspan><tspan dy="-13.3">)</tspan></text>
<line x1="185.90" y1="863.80" x2="185.90" y2="889.60" stroke="#606060" stroke-width="1.05" stroke-linecap="butt"/>
<line x1="180.90" y1="863.80" x2="190.90" y2="863.80" stroke="#606060" stroke-width="1.05" stroke-linecap="butt"/>
<line x1="180.90" y1="889.60" x2="190.90" y2="889.60" stroke="#606060" stroke-width="1.05" stroke-linecap="butt"/>
<circle cx="185.90" cy="876.70" r="5.9" fill="#0a0a0a"/>
<line x1="324.60" y1="717.30" x2="324.60" y2="800.30" stroke="#606060" stroke-width="1.05" stroke-linecap="butt"/>
<line x1="319.60" y1="717.30" x2="329.60" y2="717.30" stroke="#606060" stroke-width="1.05" stroke-linecap="butt"/>
<line x1="319.60" y1="800.30" x2="329.60" y2="800.30" stroke="#606060" stroke-width="1.05" stroke-linecap="butt"/>
<circle cx="324.60" cy="759.00" r="5.9" fill="#0a0a0a"/>
<line x1="480.00" y1="760.00" x2="480.00" y2="794.10" stroke="#606060" stroke-width="1.05" stroke-linecap="butt"/>
<line x1="475.00" y1="760.00" x2="485.00" y2="760.00" stroke="#606060" stroke-width="1.05" stroke-linecap="butt"/>
<line x1="475.00" y1="794.10" x2="485.00" y2="794.10" stroke="#606060" stroke-width="1.05" stroke-linecap="butt"/>
<circle cx="480.00" cy="777.40" r="5.9" fill="#0a0a0a"/>
<line x1="518.60" y1="676.40" x2="518.60" y2="768.50" stroke="#606060" stroke-width="1.05" stroke-linecap="butt"/>
<line x1="513.60" y1="676.40" x2="523.60" y2="676.40" stroke="#606060" stroke-width="1.05" stroke-linecap="butt"/>
<line x1="513.60" y1="768.50" x2="523.60" y2="768.50" stroke="#606060" stroke-width="1.05" stroke-linecap="butt"/>
<circle cx="518.60" cy="722.80" r="5.9" fill="#0a0a0a"/>
<line x1="664.10" y1="735.40" x2="664.10" y2="822.80" stroke="#606060" stroke-width="1.05" stroke-linecap="butt"/>
<line x1="659.10" y1="735.40" x2="669.10" y2="735.40" stroke="#606060" stroke-width="1.05" stroke-linecap="butt"/>
<line x1="659.10" y1="822.80" x2="669.10" y2="822.80" stroke="#606060" stroke-width="1.05" stroke-linecap="butt"/>
<circle cx="664.10" cy="779.10" r="5.9" fill="#0a0a0a"/>
<line x1="744.90" y1="748.80" x2="744.90" y2="804.50" stroke="#606060" stroke-width="1.05" stroke-linecap="butt"/>
<line x1="739.90" y1="748.80" x2="749.90" y2="748.80" stroke="#606060" stroke-width="1.05" stroke-linecap="butt"/>
<line x1="739.90" y1="804.50" x2="749.90" y2="804.50" stroke="#606060" stroke-width="1.05" stroke-linecap="butt"/>
<circle cx="744.90" cy="776.50" r="5.9" fill="#0a0a0a"/>
<line x1="760.80" y1="695.30" x2="760.80" y2="777.00" stroke="#606060" stroke-width="1.05" stroke-linecap="butt"/>
<line x1="755.80" y1="695.30" x2="765.80" y2="695.30" stroke="#606060" stroke-width="1.05" stroke-linecap="butt"/>
<line x1="755.80" y1="777.00" x2="765.80" y2="777.00" stroke="#606060" stroke-width="1.05" stroke-linecap="butt"/>
<circle cx="760.80" cy="735.60" r="5.9" fill="#0a0a0a"/>
<line x1="821.80" y1="681.70" x2="821.80" y2="784.10" stroke="#606060" stroke-width="1.05" stroke-linecap="butt"/>
<line x1="816.80" y1="681.70" x2="826.80" y2="681.70" stroke="#606060" stroke-width="1.05" stroke-linecap="butt"/>
<line x1="816.80" y1="784.10" x2="826.80" y2="784.10" stroke="#606060" stroke-width="1.05" stroke-linecap="butt"/>
<circle cx="821.80" cy="732.60" r="5.9" fill="#0a0a0a"/>
<text transform="translate(206.80,853.50) scale(1.0,1)" font-size="18.5" text-anchor="start" fill="#c02c3a" stroke="#c02c3a" stroke-width="0.3" font-family='"Liberation Sans", sans-serif' >Wrought 316L</text>
<line x1="221.00" y1="860.30" x2="203.31" y2="868.07" stroke="#111" stroke-width="1.7" stroke-linecap="butt"/>
<polygon points="193.70,872.30 203.53,863.61 206.75,870.93" fill="#111"/>
<text transform="translate(349.00,736.80) scale(1.0,1)" font-size="18.5" text-anchor="start" fill="#3434b6" stroke="#3434b6" stroke-width="0.3" font-family='"Liberation Sans", sans-serif' >Sample 7</text>
<line x1="365.70" y1="744.30" x2="348.10" y2="751.58" stroke="#111" stroke-width="1.7" stroke-linecap="butt"/>
<polygon points="338.40,755.60 348.42,747.12 351.48,754.52" fill="#111"/>
<text transform="translate(486.40,793.10) scale(1.0,1)" font-size="18.5" text-anchor="start" fill="#2a2a2a" stroke="#2a2a2a" stroke-width="0.3" font-family='"Liberation Sans", sans-serif' >1</text>
<text transform="translate(523.80,738.50) scale(1.0,1)" font-size="18.5" text-anchor="start" fill="#2a2a2a" stroke="#2a2a2a" stroke-width="0.3" font-family='"Liberation Sans", sans-serif' >3</text>
<text transform="translate(669.50,795.50) scale(1.0,1)" font-size="18.5" text-anchor="start" fill="#2a2a2a" stroke="#2a2a2a" stroke-width="0.3" font-family='"Liberation Sans", sans-serif' >5</text>
<text transform="translate(750.30,792.00) scale(1.0,1)" font-size="18.5" text-anchor="start" fill="#2a2a2a" stroke="#2a2a2a" stroke-width="0.3" font-family='"Liberation Sans", sans-serif' >2</text>
<text transform="translate(766.20,751.50) scale(1.0,1)" font-size="18.5" text-anchor="start" fill="#2a2a2a" stroke="#2a2a2a" stroke-width="0.3" font-family='"Liberation Sans", sans-serif' >6</text>
<text transform="translate(729.10,677.00) scale(1.0,1)" font-size="18.5" text-anchor="start" fill="#2a2a2a" stroke="#2a2a2a" stroke-width="0.3" font-family='"Liberation Sans", sans-serif' >Sample 4</text>
<line x1="790.60" y1="687.40" x2="809.18" y2="715.26" stroke="#111" stroke-width="1.7" stroke-linecap="butt"/>
<polygon points="815.00,724.00 804.74,715.82 811.39,711.38" fill="#111"/>
<line x1="185.90" y1="949.30" x2="185.90" y2="967.70" stroke="#606060" stroke-width="1.05" stroke-linecap="butt"/>
<line x1="180.90" y1="949.30" x2="190.90" y2="949.30" stroke="#606060" stroke-width="1.05" stroke-linecap="butt"/>
<line x1="180.90" y1="967.70" x2="190.90" y2="967.70" stroke="#606060" stroke-width="1.05" stroke-linecap="butt"/>
<circle cx="185.90" cy="958.50" r="5.9" fill="#0a0a0a"/>
<line x1="324.60" y1="956.20" x2="324.60" y2="1031.60" stroke="#606060" stroke-width="1.05" stroke-linecap="butt"/>
<line x1="319.60" y1="956.20" x2="329.60" y2="956.20" stroke="#606060" stroke-width="1.05" stroke-linecap="butt"/>
<line x1="319.60" y1="1031.60" x2="329.60" y2="1031.60" stroke="#606060" stroke-width="1.05" stroke-linecap="butt"/>
<circle cx="324.60" cy="993.70" r="5.9" fill="#0a0a0a"/>
<line x1="480.00" y1="933.70" x2="480.00" y2="1035.70" stroke="#606060" stroke-width="1.05" stroke-linecap="butt"/>
<line x1="475.00" y1="933.70" x2="485.00" y2="933.70" stroke="#606060" stroke-width="1.05" stroke-linecap="butt"/>
<line x1="475.00" y1="1035.70" x2="485.00" y2="1035.70" stroke="#606060" stroke-width="1.05" stroke-linecap="butt"/>
<circle cx="480.00" cy="984.20" r="5.9" fill="#0a0a0a"/>
<line x1="518.60" y1="957.50" x2="518.60" y2="985.50" stroke="#606060" stroke-width="1.05" stroke-linecap="butt"/>
<line x1="513.60" y1="957.50" x2="523.60" y2="957.50" stroke="#606060" stroke-width="1.05" stroke-linecap="butt"/>
<line x1="513.60" y1="985.50" x2="523.60" y2="985.50" stroke="#606060" stroke-width="1.05" stroke-linecap="butt"/>
<circle cx="518.60" cy="971.90" r="5.9" fill="#0a0a0a"/>
<line x1="664.10" y1="941.50" x2="664.10" y2="1154.10" stroke="#606060" stroke-width="1.05" stroke-linecap="butt"/>
<line x1="659.10" y1="941.50" x2="669.10" y2="941.50" stroke="#606060" stroke-width="1.05" stroke-linecap="butt"/>
<line x1="659.10" y1="1154.10" x2="669.10" y2="1154.10" stroke="#606060" stroke-width="1.05" stroke-linecap="butt"/>
<circle cx="664.10" cy="1047.60" r="5.9" fill="#0a0a0a"/>
<line x1="744.90" y1="975.50" x2="744.90" y2="1033.70" stroke="#606060" stroke-width="1.05" stroke-linecap="butt"/>
<line x1="739.90" y1="975.50" x2="749.90" y2="975.50" stroke="#606060" stroke-width="1.05" stroke-linecap="butt"/>
<line x1="739.90" y1="1033.70" x2="749.90" y2="1033.70" stroke="#606060" stroke-width="1.05" stroke-linecap="butt"/>
<circle cx="744.90" cy="1004.40" r="5.9" fill="#0a0a0a"/>
<line x1="760.80" y1="991.20" x2="760.80" y2="1129.00" stroke="#606060" stroke-width="1.05" stroke-linecap="butt"/>
<line x1="755.80" y1="991.20" x2="765.80" y2="991.20" stroke="#606060" stroke-width="1.05" stroke-linecap="butt"/>
<line x1="755.80" y1="1129.00" x2="765.80" y2="1129.00" stroke="#606060" stroke-width="1.05" stroke-linecap="butt"/>
<circle cx="760.80" cy="1060.20" r="5.9" fill="#0a0a0a"/>
<line x1="821.80" y1="1060.80" x2="821.80" y2="1153.40" stroke="#606060" stroke-width="1.05" stroke-linecap="butt"/>
<line x1="816.80" y1="1060.80" x2="826.80" y2="1060.80" stroke="#606060" stroke-width="1.05" stroke-linecap="butt"/>
<line x1="816.80" y1="1153.40" x2="826.80" y2="1153.40" stroke="#606060" stroke-width="1.05" stroke-linecap="butt"/>
<circle cx="821.80" cy="1107.00" r="5.9" fill="#0a0a0a"/>
<text transform="translate(188.60,994.40) scale(1.0,1)" font-size="18.5" text-anchor="start" fill="#c02c3a" stroke="#c02c3a" stroke-width="0.3" font-family='"Liberation Sans", sans-serif' >Wrought 316L</text>
<circle cx="309.3" cy="993.2" r="0.7" fill="#e9a9ae"/>
<line x1="225.10" y1="978.70" x2="206.76" y2="967.48" stroke="#111" stroke-width="1.7" stroke-linecap="butt"/>
<polygon points="197.80,962.00 210.55,965.11 206.38,971.94" fill="#111"/>
<text transform="translate(344.50,1033.70) scale(1.0,1)" font-size="18.5" text-anchor="start" fill="#3434b6" stroke="#3434b6" stroke-width="0.3" font-family='"Liberation Sans", sans-serif' >Sample 7</text>
<line x1="365.70" y1="1016.20" x2="344.89" y2="1003.09" stroke="#111" stroke-width="1.7" stroke-linecap="butt"/>
<polygon points="336.00,997.50 348.71,1000.78 344.45,1007.55" fill="#111"/>
<text transform="translate(461.90,983.80) scale(1.0,1)" font-size="18.5" text-anchor="start" fill="#2a2a2a" stroke="#2a2a2a" stroke-width="0.3" font-family='"Liberation Sans", sans-serif' >1</text>
<text transform="translate(499.60,971.20) scale(1.0,1)" font-size="18.5" text-anchor="start" fill="#2a2a2a" stroke="#2a2a2a" stroke-width="0.3" font-family='"Liberation Sans", sans-serif' >3</text>
<text transform="translate(645.00,1047.00) scale(1.0,1)" font-size="18.5" text-anchor="start" fill="#2a2a2a" stroke="#2a2a2a" stroke-width="0.3" font-family='"Liberation Sans", sans-serif' >5</text>
<text transform="translate(725.90,1003.80) scale(1.0,1)" font-size="18.5" text-anchor="start" fill="#2a2a2a" stroke="#2a2a2a" stroke-width="0.3" font-family='"Liberation Sans", sans-serif' >2</text>
<text transform="translate(741.10,1059.40) scale(1.0,1)" font-size="18.5" text-anchor="start" fill="#2a2a2a" stroke="#2a2a2a" stroke-width="0.3" font-family='"Liberation Sans", sans-serif' >6</text>
<text transform="translate(717.10,1163.20) scale(1.0,1)" font-size="18.5" text-anchor="start" fill="#2a2a2a" stroke="#2a2a2a" stroke-width="0.3" font-family='"Liberation Sans", sans-serif' >Sample 4</text>
<line x1="776.40" y1="1141.80" x2="806.72" y2="1118.16" stroke="#111" stroke-width="1.7" stroke-linecap="butt"/>
<polygon points="815.00,1111.70 807.60,1122.54 802.68,1116.23" fill="#111"/>
</svg>
</body></html>
